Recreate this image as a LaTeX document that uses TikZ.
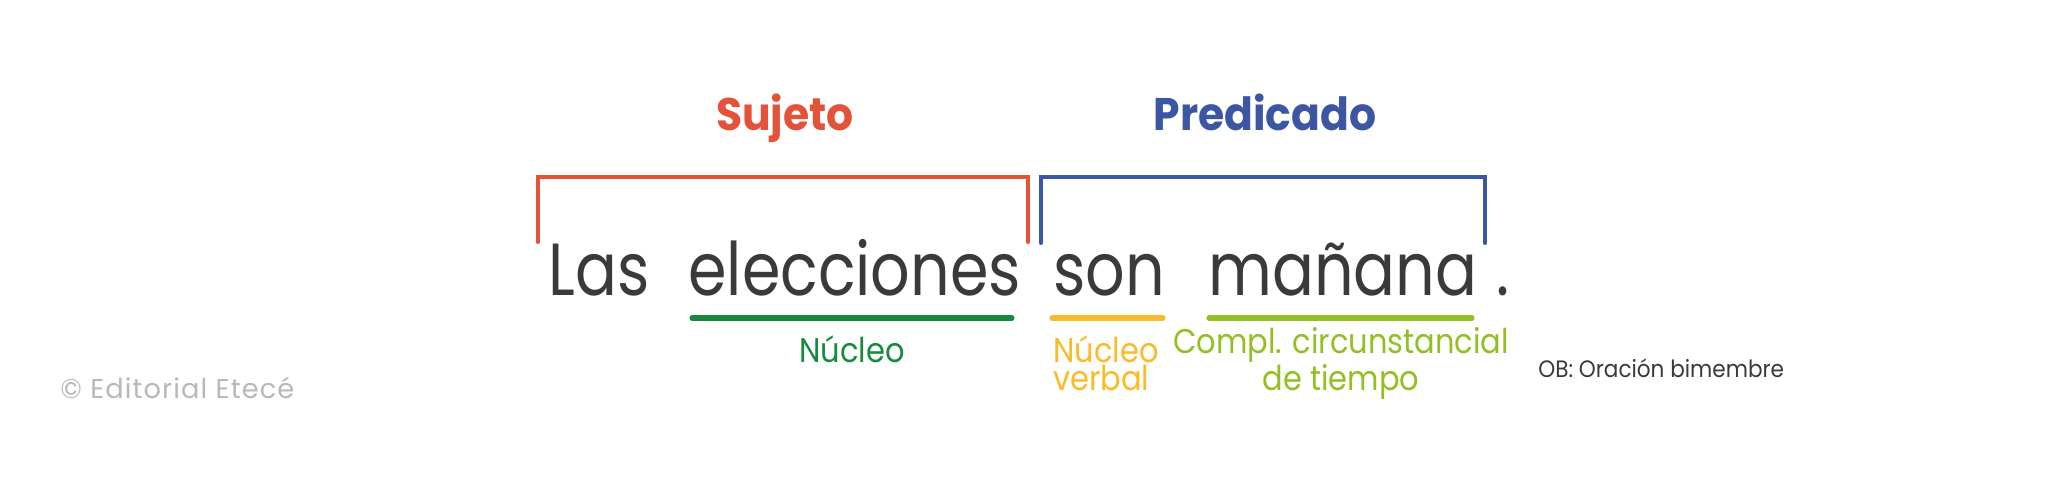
\documentclass[tikz,border=0pt]{standalone}
\usepackage{fontspec}
\setmainfont{Poppins}
\newfontfamily\palabrafont[FakeStretch=0.84]{Poppins}
\newfontfamily\titulofont[FakeStretch=0.93]{Poppins}
\newfontfamily\etiquetafont[FakeStretch=0.89]{Poppins}
\newfontfamily\notafont[FakeStretch=0.91]{Poppins}
\newfontfamily\firmafont[LetterSpace=4]{Poppins}
\usetikzlibrary{positioning}
\definecolor{sujeto}{HTML}{E5523A}
\definecolor{predicado}{HTML}{3B56A2}
\definecolor{nucleo}{HTML}{178A3E}
\definecolor{verbo}{HTML}{FBBA27}
\definecolor{complemento}{HTML}{93BF24}
\definecolor{texto}{HTML}{3A3A3A}
\definecolor{firma}{HTML}{B8B8B8}
\tikzset{
  palabra/.style={inner sep=0pt, anchor=base west, text=texto, font=\palabrafont\fontsize{42}{48}\selectfont},
  titulo/.style={inner sep=0pt, anchor=base, font=\titulofont\fontsize{26}{30}\selectfont\bfseries},
  etiqueta/.style={inner sep=0pt, font=\etiquetafont\fontsize{19.5}{15.9}\selectfont},
  llave/.style={line width=2.3pt, line cap=round, line join=miter},
  raya/.style={line width=2.9pt, line cap=round}
}
\begin{document}
\begin{tikzpicture}[x=0.02cm, y=-0.02cm]
  \useasboundingbox (0,0) rectangle (2048,478);
  % titulos
  \node[titulo, text=sujeto] (suj) at (785,130) {Sujeto};
  \node[titulo, text=predicado] (pred) at (1265,130) {Predicado};
  % oracion
  \node[palabra] (las) at (548,295) {Las};
  \node[palabra] (elec) at (688,295) {elecciones};
  \node[palabra] (son) at (1053,295) {son};
  \node[palabra] (man) at (1208,295) {mañana};
  \node[palabra] (punto) at (1496,295) {.};
  % llaves
  \coordinate (s1) at (538,242); \coordinate (s2) at (1028,242);
  \coordinate (p1) at (1041,243); \coordinate (p2) at (1485,243);
  \draw[llave, sujeto] (s1) -- ++(0,-65) -| (s2);
  \draw[llave, predicado] (p1) -- ++(0,-66) -| (p2);
  % subrayados
  \coordinate (n1) at (692,318); \coordinate (n2) at (1012,318);
  \coordinate (v1) at (1052,318); \coordinate (v2) at (1163,318);
  \coordinate (c1) at (1209,318); \coordinate (c2) at (1472,318);
  \draw[raya, nucleo] (n1) -- (n2);
  \draw[raya, verbo] (v1) -- (v2);
  \draw[raya, complemento] (c1) -- (c2);
  % etiquetas
  \node[etiqueta, anchor=base, text=nucleo] (nuc) at (852,362) {Núcleo};
  \node[etiqueta, anchor=base west, align=left, text=verbo] (nverb) at (1053,390) {Núcleo\\verbal};
  \node[etiqueta, anchor=base, align=center, text=complemento] (ccirc) at (1341,390) {Compl. circunstancial\\de tiempo};
  \node[inner sep=0pt, anchor=base west, text=texto, font=\notafont\fontsize{13.5}{16}\selectfont] (ob) at (1538,377) {OB: Oración bimembre};
  \node[inner sep=0pt, anchor=base west, text=firma, font=\firmafont\fontsize{15.5}{18}\selectfont] (firma) at (60,398) {© Editorial Etecé};
\end{tikzpicture}
\end{document}
